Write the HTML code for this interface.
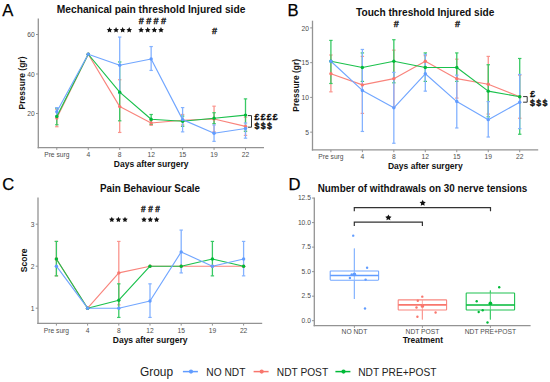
<!DOCTYPE html>
<html><head><meta charset="utf-8"><style>
html,body{margin:0;padding:0;background:#fff;}
body{width:550px;height:382px;overflow:hidden;}
svg{display:block;font-family:"Liberation Sans", sans-serif;}
</style></head><body>
<svg width="550" height="382" viewBox="0 0 550 382">
<rect width="550" height="382" fill="#fff"/>
<text x="0" y="0" font-size="16.6" fill="#000" stroke="#000" stroke-width="0.25" transform="translate(2.20,16.30)">A</text>
<text x="151.10" y="13.10" font-size="10.2" font-weight="bold" text-anchor="middle" fill="#111" textLength="188.6" lengthAdjust="spacingAndGlyphs">Mechanical pain threshold Injured side</text>
<line x1="38.30" y1="18.50" x2="38.30" y2="148.25" stroke="#939393" stroke-width="1.3" />
<line x1="37.65" y1="147.60" x2="264.00" y2="147.60" stroke="#939393" stroke-width="1.3" />
<line x1="56.80" y1="147.60" x2="56.80" y2="149.90" stroke="#939393" stroke-width="1" />
<text x="0" y="0" font-size="6.7" text-anchor="middle" fill="#4D4D4D" transform="translate(56.80,156.90) scale(1,1.1)">Pre surg</text>
<line x1="88.25" y1="147.60" x2="88.25" y2="149.90" stroke="#939393" stroke-width="1" />
<text x="0" y="0" font-size="6.7" text-anchor="middle" fill="#4D4D4D" transform="translate(88.25,156.90) scale(1,1.1)">4</text>
<line x1="119.70" y1="147.60" x2="119.70" y2="149.90" stroke="#939393" stroke-width="1" />
<text x="0" y="0" font-size="6.7" text-anchor="middle" fill="#4D4D4D" transform="translate(119.70,156.90) scale(1,1.1)">8</text>
<line x1="151.15" y1="147.60" x2="151.15" y2="149.90" stroke="#939393" stroke-width="1" />
<text x="0" y="0" font-size="6.7" text-anchor="middle" fill="#4D4D4D" transform="translate(151.15,156.90) scale(1,1.1)">12</text>
<line x1="182.60" y1="147.60" x2="182.60" y2="149.90" stroke="#939393" stroke-width="1" />
<text x="0" y="0" font-size="6.7" text-anchor="middle" fill="#4D4D4D" transform="translate(182.60,156.90) scale(1,1.1)">15</text>
<line x1="214.05" y1="147.60" x2="214.05" y2="149.90" stroke="#939393" stroke-width="1" />
<text x="0" y="0" font-size="6.7" text-anchor="middle" fill="#4D4D4D" transform="translate(214.05,156.90) scale(1,1.1)">19</text>
<line x1="245.50" y1="147.60" x2="245.50" y2="149.90" stroke="#939393" stroke-width="1" />
<text x="0" y="0" font-size="6.7" text-anchor="middle" fill="#4D4D4D" transform="translate(245.50,156.90) scale(1,1.1)">22</text>
<line x1="36.00" y1="113.50" x2="38.30" y2="113.50" stroke="#939393" stroke-width="1" />
<text x="0" y="0" font-size="6.7" text-anchor="end" fill="#4D4D4D" transform="translate(34.70,116.30) scale(1,1.1)">20</text>
<line x1="36.00" y1="74.00" x2="38.30" y2="74.00" stroke="#939393" stroke-width="1" />
<text x="0" y="0" font-size="6.7" text-anchor="end" fill="#4D4D4D" transform="translate(34.70,76.80) scale(1,1.1)">40</text>
<line x1="36.00" y1="34.50" x2="38.30" y2="34.50" stroke="#939393" stroke-width="1" />
<text x="0" y="0" font-size="6.7" text-anchor="end" fill="#4D4D4D" transform="translate(34.70,37.30) scale(1,1.1)">60</text>
<text x="151.20" y="167.00" font-size="8.5" font-weight="bold" text-anchor="middle" fill="#111" >Days after surgery</text>
<text x="0" y="0" font-size="8.5" font-weight="bold" text-anchor="middle" fill="#111" transform="translate(24.6,83) rotate(-90)">Pressure (gr)</text>
<line x1="56.80" y1="126.73" x2="56.80" y2="109.35" stroke="#fa948d" stroke-width="1.3" />
<line x1="55.10" y1="126.73" x2="58.50" y2="126.73" stroke="#fa948d" stroke-width="1.2" />
<line x1="55.10" y1="109.35" x2="58.50" y2="109.35" stroke="#fa948d" stroke-width="1.2" />
<line x1="119.70" y1="132.46" x2="119.70" y2="79.73" stroke="#fa948d" stroke-width="1.3" />
<line x1="118.00" y1="132.46" x2="121.40" y2="132.46" stroke="#fa948d" stroke-width="1.2" />
<line x1="118.00" y1="79.73" x2="121.40" y2="79.73" stroke="#fa948d" stroke-width="1.2" />
<line x1="151.15" y1="125.35" x2="151.15" y2="120.41" stroke="#fa948d" stroke-width="1.3" />
<line x1="149.45" y1="125.35" x2="152.85" y2="125.35" stroke="#fa948d" stroke-width="1.2" />
<line x1="149.45" y1="120.41" x2="152.85" y2="120.41" stroke="#fa948d" stroke-width="1.2" />
<line x1="182.60" y1="124.95" x2="182.60" y2="114.49" stroke="#fa948d" stroke-width="1.3" />
<line x1="180.90" y1="124.95" x2="184.30" y2="124.95" stroke="#fa948d" stroke-width="1.2" />
<line x1="180.90" y1="114.49" x2="184.30" y2="114.49" stroke="#fa948d" stroke-width="1.2" />
<line x1="214.05" y1="131.87" x2="214.05" y2="106.19" stroke="#fa948d" stroke-width="1.3" />
<line x1="212.35" y1="131.87" x2="215.75" y2="131.87" stroke="#fa948d" stroke-width="1.2" />
<line x1="212.35" y1="106.19" x2="215.75" y2="106.19" stroke="#fa948d" stroke-width="1.2" />
<line x1="245.50" y1="135.42" x2="245.50" y2="117.25" stroke="#fa948d" stroke-width="1.3" />
<line x1="243.80" y1="135.42" x2="247.20" y2="135.42" stroke="#fa948d" stroke-width="1.2" />
<line x1="243.80" y1="117.25" x2="247.20" y2="117.25" stroke="#fa948d" stroke-width="1.2" />
<line x1="56.80" y1="124.76" x2="56.80" y2="108.17" stroke="#38c964" stroke-width="1.3" />
<line x1="55.10" y1="124.76" x2="58.50" y2="124.76" stroke="#38c964" stroke-width="1.2" />
<line x1="55.10" y1="108.17" x2="58.50" y2="108.17" stroke="#38c964" stroke-width="1.2" />
<line x1="119.70" y1="120.81" x2="119.70" y2="61.95" stroke="#38c964" stroke-width="1.3" />
<line x1="118.00" y1="120.81" x2="121.40" y2="120.81" stroke="#38c964" stroke-width="1.2" />
<line x1="118.00" y1="61.95" x2="121.40" y2="61.95" stroke="#38c964" stroke-width="1.2" />
<line x1="151.15" y1="124.36" x2="151.15" y2="114.49" stroke="#38c964" stroke-width="1.3" />
<line x1="149.45" y1="124.36" x2="152.85" y2="124.36" stroke="#38c964" stroke-width="1.2" />
<line x1="149.45" y1="114.49" x2="152.85" y2="114.49" stroke="#38c964" stroke-width="1.2" />
<line x1="182.60" y1="126.34" x2="182.60" y2="116.07" stroke="#38c964" stroke-width="1.3" />
<line x1="180.90" y1="126.34" x2="184.30" y2="126.34" stroke="#38c964" stroke-width="1.2" />
<line x1="180.90" y1="116.07" x2="184.30" y2="116.07" stroke="#38c964" stroke-width="1.2" />
<line x1="214.05" y1="123.57" x2="214.05" y2="112.71" stroke="#38c964" stroke-width="1.3" />
<line x1="212.35" y1="123.57" x2="215.75" y2="123.57" stroke="#38c964" stroke-width="1.2" />
<line x1="212.35" y1="112.71" x2="215.75" y2="112.71" stroke="#38c964" stroke-width="1.2" />
<line x1="245.50" y1="131.28" x2="245.50" y2="98.88" stroke="#38c964" stroke-width="1.3" />
<line x1="243.80" y1="131.28" x2="247.20" y2="131.28" stroke="#38c964" stroke-width="1.2" />
<line x1="243.80" y1="98.88" x2="247.20" y2="98.88" stroke="#38c964" stroke-width="1.2" />
<line x1="56.80" y1="115.87" x2="56.80" y2="107.57" stroke="#84b2ff" stroke-width="1.3" />
<line x1="55.10" y1="115.87" x2="58.50" y2="115.87" stroke="#84b2ff" stroke-width="1.2" />
<line x1="55.10" y1="107.57" x2="58.50" y2="107.57" stroke="#84b2ff" stroke-width="1.2" />
<line x1="119.70" y1="93.55" x2="119.70" y2="37.07" stroke="#84b2ff" stroke-width="1.3" />
<line x1="118.00" y1="93.55" x2="121.40" y2="93.55" stroke="#84b2ff" stroke-width="1.2" />
<line x1="118.00" y1="37.07" x2="121.40" y2="37.07" stroke="#84b2ff" stroke-width="1.2" />
<line x1="151.15" y1="70.45" x2="151.15" y2="46.55" stroke="#84b2ff" stroke-width="1.3" />
<line x1="149.45" y1="70.45" x2="152.85" y2="70.45" stroke="#84b2ff" stroke-width="1.2" />
<line x1="149.45" y1="46.55" x2="152.85" y2="46.55" stroke="#84b2ff" stroke-width="1.2" />
<line x1="182.60" y1="131.87" x2="182.60" y2="107.57" stroke="#84b2ff" stroke-width="1.3" />
<line x1="180.90" y1="131.87" x2="184.30" y2="131.87" stroke="#84b2ff" stroke-width="1.2" />
<line x1="180.90" y1="107.57" x2="184.30" y2="107.57" stroke="#84b2ff" stroke-width="1.2" />
<line x1="214.05" y1="141.35" x2="214.05" y2="124.95" stroke="#84b2ff" stroke-width="1.3" />
<line x1="212.35" y1="141.35" x2="215.75" y2="141.35" stroke="#84b2ff" stroke-width="1.2" />
<line x1="212.35" y1="124.95" x2="215.75" y2="124.95" stroke="#84b2ff" stroke-width="1.2" />
<line x1="245.50" y1="138.19" x2="245.50" y2="122.98" stroke="#84b2ff" stroke-width="1.3" />
<line x1="243.80" y1="138.19" x2="247.20" y2="138.19" stroke="#84b2ff" stroke-width="1.2" />
<line x1="243.80" y1="122.98" x2="247.20" y2="122.98" stroke="#84b2ff" stroke-width="1.2" />
<polyline points="56.80,118.04 88.25,54.25 119.70,106.59 151.15,122.98 182.60,120.22 214.05,119.03 245.50,126.34" fill="none" stroke="#f9847c" stroke-width="1.15" stroke-linejoin="round"/>
<polyline points="56.80,116.46 88.25,54.25 119.70,92.17 151.15,119.23 182.60,121.20 214.05,118.24 245.50,115.08" fill="none" stroke="#1ac14c" stroke-width="1.15" stroke-linejoin="round"/>
<polyline points="56.80,111.72 88.25,54.25 119.70,65.31 151.15,58.99 182.60,119.62 214.05,133.25 245.50,128.51" fill="none" stroke="#71a6ff" stroke-width="1.15" stroke-linejoin="round"/>
<circle cx="56.80" cy="118.04" r="1.7" fill="#F8766D"/>
<circle cx="88.25" cy="54.25" r="1.7" fill="#F8766D"/>
<circle cx="119.70" cy="106.59" r="1.7" fill="#F8766D"/>
<circle cx="151.15" cy="122.98" r="1.7" fill="#F8766D"/>
<circle cx="182.60" cy="120.22" r="1.7" fill="#F8766D"/>
<circle cx="214.05" cy="119.03" r="1.7" fill="#F8766D"/>
<circle cx="245.50" cy="126.34" r="1.7" fill="#F8766D"/>
<circle cx="56.80" cy="116.46" r="1.7" fill="#00BA38"/>
<circle cx="88.25" cy="54.25" r="1.7" fill="#00BA38"/>
<circle cx="119.70" cy="92.17" r="1.7" fill="#00BA38"/>
<circle cx="151.15" cy="119.23" r="1.7" fill="#00BA38"/>
<circle cx="182.60" cy="121.20" r="1.7" fill="#00BA38"/>
<circle cx="214.05" cy="118.24" r="1.7" fill="#00BA38"/>
<circle cx="245.50" cy="115.08" r="1.7" fill="#00BA38"/>
<circle cx="56.80" cy="111.72" r="1.7" fill="#619CFF"/>
<circle cx="88.25" cy="54.25" r="1.7" fill="#619CFF"/>
<circle cx="119.70" cy="65.31" r="1.7" fill="#619CFF"/>
<circle cx="151.15" cy="58.99" r="1.7" fill="#619CFF"/>
<circle cx="182.60" cy="119.62" r="1.7" fill="#619CFF"/>
<circle cx="214.05" cy="133.25" r="1.7" fill="#619CFF"/>
<circle cx="245.50" cy="128.51" r="1.7" fill="#619CFF"/>
<polygon points="109.50,27.10 110.38,28.89 112.35,29.17 110.93,30.56 111.26,32.53 109.50,31.60 107.74,32.53 108.07,30.56 106.65,29.17 108.62,28.89" fill="#111"/>
<polygon points="141.10,27.10 141.98,28.89 143.95,29.17 142.53,30.56 142.86,32.53 141.10,31.60 139.34,32.53 139.67,30.56 138.25,29.17 140.22,28.89" fill="#111"/>
<polygon points="116.07,27.10 116.95,28.89 118.92,29.17 117.50,30.56 117.83,32.53 116.07,31.60 114.31,32.53 114.64,30.56 113.22,29.17 115.19,28.89" fill="#111"/>
<polygon points="147.73,27.10 148.61,28.89 150.58,29.17 149.16,30.56 149.49,32.53 147.73,31.60 145.97,32.53 146.30,30.56 144.88,29.17 146.85,28.89" fill="#111"/>
<polygon points="122.64,27.10 123.52,28.89 125.49,29.17 124.07,30.56 124.40,32.53 122.64,31.60 120.88,32.53 121.21,30.56 119.79,29.17 121.76,28.89" fill="#111"/>
<polygon points="154.36,27.10 155.24,28.89 157.21,29.17 155.79,30.56 156.12,32.53 154.36,31.60 152.60,32.53 152.93,30.56 151.51,29.17 153.48,28.89" fill="#111"/>
<polygon points="129.21,27.10 130.09,28.89 132.06,29.17 130.64,30.56 130.97,32.53 129.21,31.60 127.45,32.53 127.78,30.56 126.36,29.17 128.33,28.89" fill="#111"/>
<polygon points="160.99,27.10 161.87,28.89 163.84,29.17 162.42,30.56 162.75,32.53 160.99,31.60 159.23,32.53 159.56,30.56 158.14,29.17 160.11,28.89" fill="#111"/>
<text x="0" y="3.17" font-size="9.2" font-weight="bold" text-anchor="middle" fill="#111" stroke="#111" stroke-width="0.3" transform="translate(141.20,20.80)">#</text>
<text x="0" y="3.17" font-size="9.2" font-weight="bold" text-anchor="middle" fill="#111" stroke="#111" stroke-width="0.3" transform="translate(148.70,20.80)">#</text>
<text x="0" y="3.17" font-size="9.2" font-weight="bold" text-anchor="middle" fill="#111" stroke="#111" stroke-width="0.3" transform="translate(156.10,20.80)">#</text>
<text x="0" y="3.17" font-size="9.2" font-weight="bold" text-anchor="middle" fill="#111" stroke="#111" stroke-width="0.3" transform="translate(163.60,20.80)">#</text>
<text x="0" y="3.17" font-size="9.2" font-weight="bold" text-anchor="middle" fill="#111" stroke="#111" stroke-width="0.3" transform="translate(214.60,30.50)">#</text>
<polyline points="247.8,115.6 251.5,115.6 251.5,127.2 247.8,127.2" fill="none" stroke="#333" stroke-width="1"/>
<text x="254.60" y="120.00" font-size="8.8" font-weight="bold" text-anchor="start" fill="#111" letter-spacing="1.2" stroke="#111" stroke-width="0.35">££££</text>
<text x="254.60" y="128.60" font-size="8.8" font-weight="bold" text-anchor="start" fill="#111" letter-spacing="1.3" stroke="#111" stroke-width="0.35">$$$</text>
<text x="0" y="0" font-size="16.6" fill="#000" stroke="#000" stroke-width="0.25" transform="translate(287.40,16.20)">B</text>
<text x="425.20" y="15.60" font-size="10.15" font-weight="bold" text-anchor="middle" fill="#111" textLength="138.4" lengthAdjust="spacingAndGlyphs">Touch threshold Injured side</text>
<line x1="312.50" y1="20.70" x2="312.50" y2="150.55" stroke="#939393" stroke-width="1.3" />
<line x1="311.85" y1="149.90" x2="538.20" y2="149.90" stroke="#939393" stroke-width="1.3" />
<line x1="330.90" y1="149.90" x2="330.90" y2="152.20" stroke="#939393" stroke-width="1" />
<text x="0" y="0" font-size="6.7" text-anchor="middle" fill="#4D4D4D" transform="translate(330.90,159.20) scale(1,1.1)">Pre surg</text>
<line x1="362.37" y1="149.90" x2="362.37" y2="152.20" stroke="#939393" stroke-width="1" />
<text x="0" y="0" font-size="6.7" text-anchor="middle" fill="#4D4D4D" transform="translate(362.37,159.20) scale(1,1.1)">4</text>
<line x1="393.84" y1="149.90" x2="393.84" y2="152.20" stroke="#939393" stroke-width="1" />
<text x="0" y="0" font-size="6.7" text-anchor="middle" fill="#4D4D4D" transform="translate(393.84,159.20) scale(1,1.1)">8</text>
<line x1="425.31" y1="149.90" x2="425.31" y2="152.20" stroke="#939393" stroke-width="1" />
<text x="0" y="0" font-size="6.7" text-anchor="middle" fill="#4D4D4D" transform="translate(425.31,159.20) scale(1,1.1)">12</text>
<line x1="456.78" y1="149.90" x2="456.78" y2="152.20" stroke="#939393" stroke-width="1" />
<text x="0" y="0" font-size="6.7" text-anchor="middle" fill="#4D4D4D" transform="translate(456.78,159.20) scale(1,1.1)">15</text>
<line x1="488.25" y1="149.90" x2="488.25" y2="152.20" stroke="#939393" stroke-width="1" />
<text x="0" y="0" font-size="6.7" text-anchor="middle" fill="#4D4D4D" transform="translate(488.25,159.20) scale(1,1.1)">19</text>
<line x1="519.72" y1="149.90" x2="519.72" y2="152.20" stroke="#939393" stroke-width="1" />
<text x="0" y="0" font-size="6.7" text-anchor="middle" fill="#4D4D4D" transform="translate(519.72,159.20) scale(1,1.1)">22</text>
<line x1="310.20" y1="132.15" x2="312.50" y2="132.15" stroke="#939393" stroke-width="1" />
<text x="0" y="0" font-size="6.7" text-anchor="end" fill="#4D4D4D" transform="translate(308.90,134.95) scale(1,1.1)">5</text>
<line x1="310.20" y1="97.40" x2="312.50" y2="97.40" stroke="#939393" stroke-width="1" />
<text x="0" y="0" font-size="6.7" text-anchor="end" fill="#4D4D4D" transform="translate(308.90,100.20) scale(1,1.1)">10</text>
<line x1="310.20" y1="62.65" x2="312.50" y2="62.65" stroke="#939393" stroke-width="1" />
<text x="0" y="0" font-size="6.7" text-anchor="end" fill="#4D4D4D" transform="translate(308.90,65.45) scale(1,1.1)">15</text>
<line x1="310.20" y1="27.90" x2="312.50" y2="27.90" stroke="#939393" stroke-width="1" />
<text x="0" y="0" font-size="6.7" text-anchor="end" fill="#4D4D4D" transform="translate(308.90,30.70) scale(1,1.1)">20</text>
<text x="425.30" y="169.30" font-size="8.5" font-weight="bold" text-anchor="middle" fill="#111" >Days after surgery</text>
<text x="0" y="0" font-size="8.5" font-weight="bold" text-anchor="middle" fill="#111" transform="translate(298.9,85.3) rotate(-90)">Pressure (gr)</text>
<line x1="330.90" y1="91.84" x2="330.90" y2="55.00" stroke="#fa948d" stroke-width="1.3" />
<line x1="329.20" y1="91.84" x2="332.60" y2="91.84" stroke="#fa948d" stroke-width="1.2" />
<line x1="329.20" y1="55.00" x2="332.60" y2="55.00" stroke="#fa948d" stroke-width="1.2" />
<line x1="362.37" y1="113.39" x2="362.37" y2="56.39" stroke="#fa948d" stroke-width="1.3" />
<line x1="360.67" y1="113.39" x2="364.07" y2="113.39" stroke="#fa948d" stroke-width="1.2" />
<line x1="360.67" y1="56.39" x2="364.07" y2="56.39" stroke="#fa948d" stroke-width="1.2" />
<line x1="393.84" y1="107.13" x2="393.84" y2="50.14" stroke="#fa948d" stroke-width="1.3" />
<line x1="392.14" y1="107.13" x2="395.54" y2="107.13" stroke="#fa948d" stroke-width="1.2" />
<line x1="392.14" y1="50.14" x2="395.54" y2="50.14" stroke="#fa948d" stroke-width="1.2" />
<line x1="425.31" y1="66.82" x2="425.31" y2="55.70" stroke="#fa948d" stroke-width="1.3" />
<line x1="423.61" y1="66.82" x2="427.01" y2="66.82" stroke="#fa948d" stroke-width="1.2" />
<line x1="423.61" y1="55.70" x2="427.01" y2="55.70" stroke="#fa948d" stroke-width="1.2" />
<line x1="456.78" y1="98.09" x2="456.78" y2="59.17" stroke="#fa948d" stroke-width="1.3" />
<line x1="455.08" y1="98.09" x2="458.48" y2="98.09" stroke="#fa948d" stroke-width="1.2" />
<line x1="455.08" y1="59.17" x2="458.48" y2="59.17" stroke="#fa948d" stroke-width="1.2" />
<line x1="488.25" y1="114.08" x2="488.25" y2="56.39" stroke="#fa948d" stroke-width="1.3" />
<line x1="486.55" y1="114.08" x2="489.95" y2="114.08" stroke="#fa948d" stroke-width="1.2" />
<line x1="486.55" y1="56.39" x2="489.95" y2="56.39" stroke="#fa948d" stroke-width="1.2" />
<line x1="519.72" y1="118.25" x2="519.72" y2="75.16" stroke="#fa948d" stroke-width="1.3" />
<line x1="518.02" y1="118.25" x2="521.42" y2="118.25" stroke="#fa948d" stroke-width="1.2" />
<line x1="518.02" y1="75.16" x2="521.42" y2="75.16" stroke="#fa948d" stroke-width="1.2" />
<line x1="330.90" y1="83.50" x2="330.90" y2="40.41" stroke="#38c964" stroke-width="1.3" />
<line x1="329.20" y1="83.50" x2="332.60" y2="83.50" stroke="#38c964" stroke-width="1.2" />
<line x1="329.20" y1="40.41" x2="332.60" y2="40.41" stroke="#38c964" stroke-width="1.2" />
<line x1="362.37" y1="81.41" x2="362.37" y2="52.92" stroke="#38c964" stroke-width="1.3" />
<line x1="360.67" y1="81.41" x2="364.07" y2="81.41" stroke="#38c964" stroke-width="1.2" />
<line x1="360.67" y1="52.92" x2="364.07" y2="52.92" stroke="#38c964" stroke-width="1.2" />
<line x1="393.84" y1="82.81" x2="393.84" y2="39.72" stroke="#38c964" stroke-width="1.3" />
<line x1="392.14" y1="82.81" x2="395.54" y2="82.81" stroke="#38c964" stroke-width="1.2" />
<line x1="392.14" y1="39.72" x2="395.54" y2="39.72" stroke="#38c964" stroke-width="1.2" />
<line x1="425.31" y1="81.41" x2="425.31" y2="52.92" stroke="#38c964" stroke-width="1.3" />
<line x1="423.61" y1="81.41" x2="427.01" y2="81.41" stroke="#38c964" stroke-width="1.2" />
<line x1="423.61" y1="52.92" x2="427.01" y2="52.92" stroke="#38c964" stroke-width="1.2" />
<line x1="456.78" y1="81.41" x2="456.78" y2="52.92" stroke="#38c964" stroke-width="1.3" />
<line x1="455.08" y1="81.41" x2="458.48" y2="81.41" stroke="#38c964" stroke-width="1.2" />
<line x1="455.08" y1="52.92" x2="458.48" y2="52.92" stroke="#38c964" stroke-width="1.2" />
<line x1="488.25" y1="116.86" x2="488.25" y2="64.74" stroke="#38c964" stroke-width="1.3" />
<line x1="486.55" y1="116.86" x2="489.95" y2="116.86" stroke="#38c964" stroke-width="1.2" />
<line x1="486.55" y1="64.74" x2="489.95" y2="64.74" stroke="#38c964" stroke-width="1.2" />
<line x1="519.72" y1="134.24" x2="519.72" y2="58.48" stroke="#38c964" stroke-width="1.3" />
<line x1="518.02" y1="134.24" x2="521.42" y2="134.24" stroke="#38c964" stroke-width="1.2" />
<line x1="518.02" y1="58.48" x2="521.42" y2="58.48" stroke="#38c964" stroke-width="1.2" />
<line x1="362.37" y1="131.46" x2="362.37" y2="49.45" stroke="#84b2ff" stroke-width="1.3" />
<line x1="360.67" y1="131.46" x2="364.07" y2="131.46" stroke="#84b2ff" stroke-width="1.2" />
<line x1="360.67" y1="49.45" x2="364.07" y2="49.45" stroke="#84b2ff" stroke-width="1.2" />
<line x1="393.84" y1="143.27" x2="393.84" y2="72.38" stroke="#84b2ff" stroke-width="1.3" />
<line x1="392.14" y1="143.27" x2="395.54" y2="143.27" stroke="#84b2ff" stroke-width="1.2" />
<line x1="392.14" y1="72.38" x2="395.54" y2="72.38" stroke="#84b2ff" stroke-width="1.2" />
<line x1="425.31" y1="91.14" x2="425.31" y2="54.31" stroke="#84b2ff" stroke-width="1.3" />
<line x1="423.61" y1="91.14" x2="427.01" y2="91.14" stroke="#84b2ff" stroke-width="1.2" />
<line x1="423.61" y1="54.31" x2="427.01" y2="54.31" stroke="#84b2ff" stroke-width="1.2" />
<line x1="456.78" y1="127.98" x2="456.78" y2="75.16" stroke="#84b2ff" stroke-width="1.3" />
<line x1="455.08" y1="127.98" x2="458.48" y2="127.98" stroke="#84b2ff" stroke-width="1.2" />
<line x1="455.08" y1="75.16" x2="458.48" y2="75.16" stroke="#84b2ff" stroke-width="1.2" />
<line x1="488.25" y1="137.02" x2="488.25" y2="101.57" stroke="#84b2ff" stroke-width="1.3" />
<line x1="486.55" y1="137.02" x2="489.95" y2="137.02" stroke="#84b2ff" stroke-width="1.2" />
<line x1="486.55" y1="101.57" x2="489.95" y2="101.57" stroke="#84b2ff" stroke-width="1.2" />
<line x1="519.72" y1="128.68" x2="519.72" y2="74.47" stroke="#84b2ff" stroke-width="1.3" />
<line x1="518.02" y1="128.68" x2="521.42" y2="128.68" stroke="#84b2ff" stroke-width="1.2" />
<line x1="518.02" y1="74.47" x2="521.42" y2="74.47" stroke="#84b2ff" stroke-width="1.2" />
<polyline points="330.90,73.77 362.37,84.89 393.84,78.64 425.31,61.26 456.78,78.64 488.25,84.20 519.72,96.71" fill="none" stroke="#f9847c" stroke-width="1.15" stroke-linejoin="round"/>
<polyline points="330.90,61.26 362.37,67.52 393.84,61.26 425.31,67.52 456.78,67.52 488.25,91.14 519.72,96.71" fill="none" stroke="#1ac14c" stroke-width="1.15" stroke-linejoin="round"/>
<polyline points="330.90,61.26 362.37,90.45 393.84,107.83 425.31,73.77 456.78,101.57 488.25,119.64 519.72,102.27" fill="none" stroke="#71a6ff" stroke-width="1.15" stroke-linejoin="round"/>
<circle cx="330.90" cy="73.77" r="1.7" fill="#F8766D"/>
<circle cx="362.37" cy="84.89" r="1.7" fill="#F8766D"/>
<circle cx="393.84" cy="78.64" r="1.7" fill="#F8766D"/>
<circle cx="425.31" cy="61.26" r="1.7" fill="#F8766D"/>
<circle cx="456.78" cy="78.64" r="1.7" fill="#F8766D"/>
<circle cx="488.25" cy="84.20" r="1.7" fill="#F8766D"/>
<circle cx="519.72" cy="96.71" r="1.7" fill="#F8766D"/>
<circle cx="330.90" cy="61.26" r="1.7" fill="#00BA38"/>
<circle cx="362.37" cy="67.52" r="1.7" fill="#00BA38"/>
<circle cx="393.84" cy="61.26" r="1.7" fill="#00BA38"/>
<circle cx="425.31" cy="67.52" r="1.7" fill="#00BA38"/>
<circle cx="456.78" cy="67.52" r="1.7" fill="#00BA38"/>
<circle cx="488.25" cy="91.14" r="1.7" fill="#00BA38"/>
<circle cx="519.72" cy="96.71" r="1.7" fill="#00BA38"/>
<circle cx="330.90" cy="61.26" r="1.7" fill="#619CFF"/>
<circle cx="362.37" cy="90.45" r="1.7" fill="#619CFF"/>
<circle cx="393.84" cy="107.83" r="1.7" fill="#619CFF"/>
<circle cx="425.31" cy="73.77" r="1.7" fill="#619CFF"/>
<circle cx="456.78" cy="101.57" r="1.7" fill="#619CFF"/>
<circle cx="488.25" cy="119.64" r="1.7" fill="#619CFF"/>
<circle cx="519.72" cy="102.27" r="1.7" fill="#619CFF"/>
<text x="0" y="3.17" font-size="9.2" font-weight="bold" text-anchor="middle" fill="#111" stroke="#111" stroke-width="0.3" transform="translate(396.40,24.00)">#</text>
<text x="0" y="3.17" font-size="9.2" font-weight="bold" text-anchor="middle" fill="#111" stroke="#111" stroke-width="0.3" transform="translate(457.60,24.00)">#</text>
<polyline points="523.1,96.6 527.2,96.6 527.2,102.2 523.1,102.2" fill="none" stroke="#333" stroke-width="1"/>
<text x="530.30" y="97.00" font-size="8.8" font-weight="bold" text-anchor="start" fill="#111" stroke="#111" stroke-width="0.35">£</text>
<text x="530.00" y="105.90" font-size="8.8" font-weight="bold" text-anchor="start" fill="#111" letter-spacing="1.3" stroke="#111" stroke-width="0.35">$$$</text>
<text x="0" y="0" font-size="16.6" fill="#000" stroke="#000" stroke-width="0.25" transform="translate(2.30,189.90)">C</text>
<text x="150.00" y="192.00" font-size="10.0" font-weight="bold" text-anchor="middle" fill="#111" textLength="100.2" lengthAdjust="spacingAndGlyphs">Pain Behaviour Scale</text>
<line x1="38.00" y1="197.50" x2="38.00" y2="323.95" stroke="#939393" stroke-width="1.3" />
<line x1="37.35" y1="323.30" x2="262.20" y2="323.30" stroke="#939393" stroke-width="1.3" />
<line x1="56.40" y1="323.30" x2="56.40" y2="325.60" stroke="#939393" stroke-width="1" />
<text x="0" y="0" font-size="6.7" text-anchor="middle" fill="#4D4D4D" transform="translate(56.40,332.60) scale(1,1.1)">Pre surg</text>
<line x1="87.60" y1="323.30" x2="87.60" y2="325.60" stroke="#939393" stroke-width="1" />
<text x="0" y="0" font-size="6.7" text-anchor="middle" fill="#4D4D4D" transform="translate(87.60,332.60) scale(1,1.1)">4</text>
<line x1="118.80" y1="323.30" x2="118.80" y2="325.60" stroke="#939393" stroke-width="1" />
<text x="0" y="0" font-size="6.7" text-anchor="middle" fill="#4D4D4D" transform="translate(118.80,332.60) scale(1,1.1)">8</text>
<line x1="150.00" y1="323.30" x2="150.00" y2="325.60" stroke="#939393" stroke-width="1" />
<text x="0" y="0" font-size="6.7" text-anchor="middle" fill="#4D4D4D" transform="translate(150.00,332.60) scale(1,1.1)">12</text>
<line x1="181.20" y1="323.30" x2="181.20" y2="325.60" stroke="#939393" stroke-width="1" />
<text x="0" y="0" font-size="6.7" text-anchor="middle" fill="#4D4D4D" transform="translate(181.20,332.60) scale(1,1.1)">15</text>
<line x1="212.40" y1="323.30" x2="212.40" y2="325.60" stroke="#939393" stroke-width="1" />
<text x="0" y="0" font-size="6.7" text-anchor="middle" fill="#4D4D4D" transform="translate(212.40,332.60) scale(1,1.1)">19</text>
<line x1="243.60" y1="323.30" x2="243.60" y2="325.60" stroke="#939393" stroke-width="1" />
<text x="0" y="0" font-size="6.7" text-anchor="middle" fill="#4D4D4D" transform="translate(243.60,332.60) scale(1,1.1)">22</text>
<line x1="35.70" y1="308.20" x2="38.00" y2="308.20" stroke="#939393" stroke-width="1" />
<text x="0" y="0" font-size="6.7" text-anchor="end" fill="#4D4D4D" transform="translate(34.40,311.00) scale(1,1.1)">1</text>
<line x1="35.70" y1="266.20" x2="38.00" y2="266.20" stroke="#939393" stroke-width="1" />
<text x="0" y="0" font-size="6.7" text-anchor="end" fill="#4D4D4D" transform="translate(34.40,269.00) scale(1,1.1)">2</text>
<line x1="35.70" y1="224.20" x2="38.00" y2="224.20" stroke="#939393" stroke-width="1" />
<text x="0" y="0" font-size="6.7" text-anchor="end" fill="#4D4D4D" transform="translate(34.40,227.00) scale(1,1.1)">3</text>
<text x="150.10" y="342.60" font-size="8.5" font-weight="bold" text-anchor="middle" fill="#111" >Days after surgery</text>
<text x="0" y="0" font-size="8.5" font-weight="bold" text-anchor="middle" fill="#111" transform="translate(27.3,260.4) rotate(-90)">Score</text>
<line x1="56.40" y1="275.86" x2="56.40" y2="241.42" stroke="#fa948d" stroke-width="1.3" />
<line x1="54.70" y1="275.86" x2="58.10" y2="275.86" stroke="#fa948d" stroke-width="1.2" />
<line x1="54.70" y1="241.42" x2="58.10" y2="241.42" stroke="#fa948d" stroke-width="1.2" />
<line x1="118.80" y1="304.84" x2="118.80" y2="241.42" stroke="#fa948d" stroke-width="1.3" />
<line x1="117.10" y1="304.84" x2="120.50" y2="304.84" stroke="#fa948d" stroke-width="1.2" />
<line x1="117.10" y1="241.42" x2="120.50" y2="241.42" stroke="#fa948d" stroke-width="1.2" />
<line x1="56.40" y1="275.86" x2="56.40" y2="241.42" stroke="#38c964" stroke-width="1.3" />
<line x1="54.70" y1="275.86" x2="58.10" y2="275.86" stroke="#38c964" stroke-width="1.2" />
<line x1="54.70" y1="241.42" x2="58.10" y2="241.42" stroke="#38c964" stroke-width="1.2" />
<line x1="118.80" y1="317.44" x2="118.80" y2="283.84" stroke="#38c964" stroke-width="1.3" />
<line x1="117.10" y1="317.44" x2="120.50" y2="317.44" stroke="#38c964" stroke-width="1.2" />
<line x1="117.10" y1="283.84" x2="120.50" y2="283.84" stroke="#38c964" stroke-width="1.2" />
<line x1="212.40" y1="275.86" x2="212.40" y2="241.42" stroke="#38c964" stroke-width="1.3" />
<line x1="210.70" y1="275.86" x2="214.10" y2="275.86" stroke="#38c964" stroke-width="1.2" />
<line x1="210.70" y1="241.42" x2="214.10" y2="241.42" stroke="#38c964" stroke-width="1.2" />
<line x1="150.00" y1="317.44" x2="150.00" y2="283.84" stroke="#84b2ff" stroke-width="1.3" />
<line x1="148.30" y1="317.44" x2="151.70" y2="317.44" stroke="#84b2ff" stroke-width="1.2" />
<line x1="148.30" y1="283.84" x2="151.70" y2="283.84" stroke="#84b2ff" stroke-width="1.2" />
<line x1="181.20" y1="272.92" x2="181.20" y2="230.08" stroke="#84b2ff" stroke-width="1.3" />
<line x1="179.50" y1="272.92" x2="182.90" y2="272.92" stroke="#84b2ff" stroke-width="1.2" />
<line x1="179.50" y1="230.08" x2="182.90" y2="230.08" stroke="#84b2ff" stroke-width="1.2" />
<line x1="243.60" y1="275.86" x2="243.60" y2="241.42" stroke="#84b2ff" stroke-width="1.3" />
<line x1="241.90" y1="275.86" x2="245.30" y2="275.86" stroke="#84b2ff" stroke-width="1.2" />
<line x1="241.90" y1="241.42" x2="245.30" y2="241.42" stroke="#84b2ff" stroke-width="1.2" />
<polyline points="56.40,259.06 87.60,308.20 118.80,272.92 150.00,266.20 181.20,266.20 212.40,266.20 243.60,266.20" fill="none" stroke="#f9847c" stroke-width="1.15" stroke-linejoin="round"/>
<polyline points="56.40,259.06 87.60,308.20 118.80,300.22 150.00,266.20 181.20,266.20 212.40,259.06 243.60,266.20" fill="none" stroke="#1ac14c" stroke-width="1.15" stroke-linejoin="round"/>
<polyline points="56.40,266.20 87.60,308.20 118.80,308.20 150.00,301.06 181.20,251.92 212.40,266.20 243.60,259.06" fill="none" stroke="#71a6ff" stroke-width="1.15" stroke-linejoin="round"/>
<circle cx="56.40" cy="259.06" r="1.7" fill="#F8766D"/>
<circle cx="87.60" cy="308.20" r="1.7" fill="#F8766D"/>
<circle cx="118.80" cy="272.92" r="1.7" fill="#F8766D"/>
<circle cx="150.00" cy="266.20" r="1.7" fill="#F8766D"/>
<circle cx="181.20" cy="266.20" r="1.7" fill="#F8766D"/>
<circle cx="212.40" cy="266.20" r="1.7" fill="#F8766D"/>
<circle cx="243.60" cy="266.20" r="1.7" fill="#F8766D"/>
<circle cx="56.40" cy="259.06" r="1.7" fill="#00BA38"/>
<circle cx="87.60" cy="308.20" r="1.7" fill="#00BA38"/>
<circle cx="118.80" cy="300.22" r="1.7" fill="#00BA38"/>
<circle cx="150.00" cy="266.20" r="1.7" fill="#00BA38"/>
<circle cx="181.20" cy="266.20" r="1.7" fill="#00BA38"/>
<circle cx="212.40" cy="259.06" r="1.7" fill="#00BA38"/>
<circle cx="243.60" cy="266.20" r="1.7" fill="#00BA38"/>
<circle cx="56.40" cy="266.20" r="1.7" fill="#619CFF"/>
<circle cx="87.60" cy="308.20" r="1.7" fill="#619CFF"/>
<circle cx="118.80" cy="308.20" r="1.7" fill="#619CFF"/>
<circle cx="150.00" cy="301.06" r="1.7" fill="#619CFF"/>
<circle cx="181.20" cy="251.92" r="1.7" fill="#619CFF"/>
<circle cx="212.40" cy="266.20" r="1.7" fill="#619CFF"/>
<circle cx="243.60" cy="259.06" r="1.7" fill="#619CFF"/>
<polygon points="111.80,216.80 112.65,218.53 114.56,218.80 113.18,220.15 113.50,222.05 111.80,221.15 110.10,222.05 110.42,220.15 109.04,218.80 110.95,218.53" fill="#111"/>
<polygon points="144.00,216.80 144.85,218.53 146.76,218.80 145.38,220.15 145.70,222.05 144.00,221.15 142.30,222.05 142.62,220.15 141.24,218.80 143.15,218.53" fill="#111"/>
<polygon points="118.40,216.80 119.25,218.53 121.16,218.80 119.78,220.15 120.10,222.05 118.40,221.15 116.70,222.05 117.02,220.15 115.64,218.80 117.55,218.53" fill="#111"/>
<polygon points="150.30,216.80 151.15,218.53 153.06,218.80 151.68,220.15 152.00,222.05 150.30,221.15 148.60,222.05 148.92,220.15 147.54,218.80 149.45,218.53" fill="#111"/>
<polygon points="125.00,216.80 125.85,218.53 127.76,218.80 126.38,220.15 126.70,222.05 125.00,221.15 123.30,222.05 123.62,220.15 122.24,218.80 124.15,218.53" fill="#111"/>
<polygon points="156.60,216.80 157.45,218.53 159.36,218.80 157.98,220.15 158.30,222.05 156.60,221.15 154.90,222.05 155.22,220.15 153.84,218.80 155.75,218.53" fill="#111"/>
<text x="0" y="2.90" font-size="8.4" font-weight="bold" text-anchor="middle" fill="#111" stroke="#111" stroke-width="0.3" transform="translate(143.40,208.80)">#</text>
<text x="0" y="2.90" font-size="8.4" font-weight="bold" text-anchor="middle" fill="#111" stroke="#111" stroke-width="0.3" transform="translate(150.50,208.80)">#</text>
<text x="0" y="2.90" font-size="8.4" font-weight="bold" text-anchor="middle" fill="#111" stroke="#111" stroke-width="0.3" transform="translate(157.60,208.80)">#</text>
<text x="0" y="0" font-size="16.6" fill="#000" stroke="#000" stroke-width="0.25" transform="translate(288.60,189.50)">D</text>
<text x="422.50" y="192.00" font-size="10.0" font-weight="bold" text-anchor="middle" fill="#111" textLength="209.6" lengthAdjust="spacingAndGlyphs">Number of withdrawals on 30 nerve tensions</text>
<line x1="314.30" y1="197.50" x2="314.30" y2="326.25" stroke="#939393" stroke-width="1.3" />
<line x1="313.65" y1="325.60" x2="530.60" y2="325.60" stroke="#939393" stroke-width="1.3" />
<line x1="354.40" y1="325.60" x2="354.40" y2="327.90" stroke="#939393" stroke-width="1" />
<text x="0" y="0" font-size="6.7" text-anchor="middle" fill="#4D4D4D" transform="translate(354.40,334.20) scale(1,1.1)">NO NDT</text>
<line x1="422.40" y1="325.60" x2="422.40" y2="327.90" stroke="#939393" stroke-width="1" />
<text x="0" y="0" font-size="6.7" text-anchor="middle" fill="#4D4D4D" transform="translate(422.40,334.20) scale(1,1.1)">NDT POST</text>
<line x1="490.40" y1="325.60" x2="490.40" y2="327.90" stroke="#939393" stroke-width="1" />
<text x="0" y="0" font-size="6.7" text-anchor="middle" fill="#4D4D4D" transform="translate(490.40,334.20) scale(1,1.1)">NDT PRE+POST</text>
<line x1="312.00" y1="320.70" x2="314.30" y2="320.70" stroke="#939393" stroke-width="1" />
<text x="0" y="0" font-size="6.7" text-anchor="end" fill="#4D4D4D" transform="translate(310.90,322.70) scale(1,1.1)">0.0</text>
<line x1="312.00" y1="296.18" x2="314.30" y2="296.18" stroke="#939393" stroke-width="1" />
<text x="0" y="0" font-size="6.7" text-anchor="end" fill="#4D4D4D" transform="translate(310.90,298.18) scale(1,1.1)">2.5</text>
<line x1="312.00" y1="271.65" x2="314.30" y2="271.65" stroke="#939393" stroke-width="1" />
<text x="0" y="0" font-size="6.7" text-anchor="end" fill="#4D4D4D" transform="translate(310.90,273.65) scale(1,1.1)">5.0</text>
<line x1="312.00" y1="247.12" x2="314.30" y2="247.12" stroke="#939393" stroke-width="1" />
<text x="0" y="0" font-size="6.7" text-anchor="end" fill="#4D4D4D" transform="translate(310.90,249.12) scale(1,1.1)">7.5</text>
<line x1="312.00" y1="222.60" x2="314.30" y2="222.60" stroke="#939393" stroke-width="1" />
<text x="0" y="0" font-size="6.7" text-anchor="end" fill="#4D4D4D" transform="translate(310.90,224.60) scale(1,1.1)">10.0</text>
<line x1="312.00" y1="198.07" x2="314.30" y2="198.07" stroke="#939393" stroke-width="1" />
<text x="0" y="0" font-size="6.7" text-anchor="end" fill="#4D4D4D" transform="translate(310.90,200.07) scale(1,1.1)">12.5</text>
<text x="422.80" y="343.00" font-size="8.45" font-weight="bold" text-anchor="middle" fill="#111" >Treatment</text>
<line x1="354.40" y1="248.50" x2="354.40" y2="299.12" stroke="#79abff" stroke-width="1.1" />
<rect x="330.20" y="270.96" width="48.40" height="9.22" rx="0.6" fill="#fff" fill-opacity="0.8" stroke="#74a8ff" stroke-width="1.1"/>
<line x1="330.20" y1="275.48" x2="378.60" y2="275.48" stroke="#619CFF" stroke-width="1.7" />
<line x1="354.40" y1="248.50" x2="354.40" y2="299.12" stroke="#90baff" stroke-width="1.1" stroke-opacity="0.7"/>
<circle cx="353.20" cy="235.65" r="1.2" fill="#619CFF"/>
<circle cx="367.10" cy="267.82" r="1.2" fill="#619CFF"/>
<circle cx="365.60" cy="279.60" r="1.2" fill="#619CFF"/>
<circle cx="365.00" cy="308.54" r="1.2" fill="#619CFF"/>
<circle cx="349.90" cy="278.03" r="1.2" fill="#619CFF"/>
<circle cx="351.70" cy="274.40" r="1.2" fill="#619CFF"/>
<circle cx="354.40" cy="274.40" r="1.85" fill="#619CFF"/>
<line x1="422.40" y1="299.90" x2="422.40" y2="319.52" stroke="#f98b83" stroke-width="1.1" />
<rect x="398.20" y="299.90" width="48.40" height="10.10" rx="0.6" fill="#fff" fill-opacity="0.8" stroke="#f9867f" stroke-width="1.1"/>
<line x1="398.20" y1="304.91" x2="446.60" y2="304.91" stroke="#F8766D" stroke-width="1.7" />
<line x1="422.40" y1="299.90" x2="422.40" y2="319.52" stroke="#fa9f99" stroke-width="1.1" stroke-opacity="0.7"/>
<circle cx="422.30" cy="296.67" r="1.2" fill="#F8766D"/>
<circle cx="417.80" cy="300.69" r="1.2" fill="#F8766D"/>
<circle cx="416.50" cy="307.46" r="1.2" fill="#F8766D"/>
<circle cx="417.40" cy="316.68" r="1.2" fill="#F8766D"/>
<circle cx="435.60" cy="312.46" r="1.2" fill="#F8766D"/>
<circle cx="422.40" cy="305.99" r="1.85" fill="#F8766D"/>
<line x1="490.40" y1="290.58" x2="490.40" y2="319.42" stroke="#26c456" stroke-width="1.1" />
<rect x="466.20" y="292.94" width="48.40" height="17.07" rx="0.6" fill="#fff" fill-opacity="0.8" stroke="#1fc250" stroke-width="1.1"/>
<line x1="466.20" y1="305.00" x2="514.60" y2="305.00" stroke="#00BA38" stroke-width="1.7" />
<line x1="490.40" y1="290.58" x2="490.40" y2="319.42" stroke="#4ccf74" stroke-width="1.1" stroke-opacity="0.7"/>
<circle cx="499.20" cy="287.25" r="1.2" fill="#00BA38"/>
<circle cx="476.70" cy="301.28" r="1.2" fill="#00BA38"/>
<circle cx="478.70" cy="312.07" r="1.2" fill="#00BA38"/>
<circle cx="482.70" cy="310.20" r="1.2" fill="#00BA38"/>
<circle cx="487.50" cy="322.47" r="1.2" fill="#00BA38"/>
<circle cx="490.40" cy="303.34" r="1.85" fill="#00BA38"/>
<polyline points="354.3,211.2 354.3,207.7 490.5,207.7 490.5,211.2" fill="none" stroke="#333" stroke-width="1.2"/>
<polyline points="354.3,226.0 354.3,222.1 422.4,222.1 422.4,226.0" fill="none" stroke="#333" stroke-width="1.2"/>
<polygon points="388.40,214.40 389.37,216.37 391.54,216.68 389.97,218.21 390.34,220.37 388.40,219.35 386.46,220.37 386.83,218.21 385.26,216.68 387.43,216.37" fill="#111"/>
<polygon points="422.70,199.70 423.67,201.67 425.84,201.98 424.27,203.51 424.64,205.67 422.70,204.65 420.76,205.67 421.13,203.51 419.56,201.98 421.73,201.67" fill="#111"/>
<text x="140.00" y="375.90" font-size="11.9" font-weight="normal" text-anchor="start" fill="#222" >Group</text>
<line x1="182.90" y1="371.60" x2="197.90" y2="371.60" stroke="#619CFF" stroke-width="1.5" />
<circle cx="191.00" cy="371.6" r="2.1" fill="#619CFF"/>
<text x="0" y="0" font-size="10.2" text-anchor="start" fill="#222" transform="translate(206.3,376.1) scale(1,1.06)">NO NDT</text>
<line x1="253.60" y1="371.60" x2="268.60" y2="371.60" stroke="#F8766D" stroke-width="1.5" />
<circle cx="261.70" cy="371.6" r="2.1" fill="#F8766D"/>
<text x="0" y="0" font-size="10.2" text-anchor="start" fill="#222" transform="translate(276.8,376.1) scale(1,1.06)">NDT POST</text>
<line x1="335.40" y1="371.60" x2="350.40" y2="371.60" stroke="#00BA38" stroke-width="1.5" />
<circle cx="343.50" cy="371.6" r="2.1" fill="#00BA38"/>
<text x="0" y="0" font-size="10.2" text-anchor="start" fill="#222" transform="translate(358.2,376.1) scale(1,1.06)">NDT PRE+POST</text>
</svg>
</body></html>
